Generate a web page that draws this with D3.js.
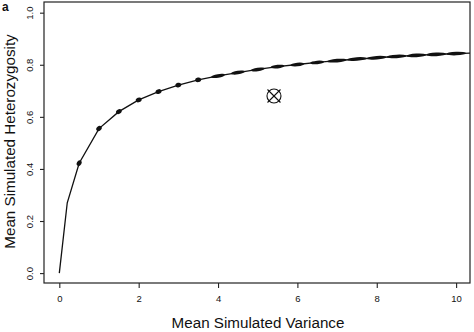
<!DOCTYPE html>
<html>
<head>
<meta charset="utf-8">
<script src="https://cdn.jsdelivr.net/npm/d3@7"></script>
<style>
  html, body { margin: 0; padding: 0; background: #fff; }
  svg { display: block; }
  text { font-family: "Liberation Sans", Arial, sans-serif; fill: #111; }
</style>
</head>
<body>
<script>
// ---- data ----
const variance = [0, 0.2, 0.5, 1.0, 1.5, 2.0, 2.5, 3.0, 3.5, 4.0, 4.5, 5.0, 5.5, 6.0, 6.5, 7.0, 7.5, 8.0, 8.5, 9.0, 9.5, 10.0, 10.35];
const heterozygosity = [0, 0.27, 0.422, 0.555, 0.62, 0.665, 0.697, 0.722, 0.742, 0.757, 0.77, 0.782, 0.793, 0.801, 0.809, 0.816, 0.822, 0.827, 0.832, 0.836, 0.840, 0.843, 0.845];
const markerVariance = [0.5, 1.0, 1.5, 2.0, 2.5, 3.0, 3.5, 4.0, 4.5, 5.0, 5.5, 6.0, 6.5, 7.0, 7.5, 8.0, 8.5, 9.0, 9.5, 10.0];
const observed = { variance: 5.41, heterozygosity: 0.68 };
const xTicks = [0, 2, 4, 6, 8, 10];
const yTicks = [0.0, 0.2, 0.4, 0.6, 0.8, 1.0];
const xTitle = "Mean Simulated Variance";
const yTitle = "Mean Simulated Heterozygosity";
const panelLabel = "a";

// ---- layout ----
const W = 474, H = 332;
const box = { left: 44, right: 470, top: 2, bottom: 283 };

const x = d3.scaleLinear().domain([-0.386, 10.35]).range([box.left, box.right]);
const y = d3.scaleLinear().domain([-0.038, 1.041]).range([box.bottom, box.top]);

const svg = d3.select("body").append("svg").attr("width", W).attr("height", H);

// box
svg.append("rect")
  .attr("x", box.left).attr("y", box.top)
  .attr("width", box.right - box.left).attr("height", box.bottom - box.top)
  .attr("fill", "none").attr("stroke", "#222").attr("stroke-width", 1.2);

// x axis ticks
const xAxis = d3.axisBottom(x).tickValues(xTicks).tickSize(5).tickPadding(7)
  .tickFormat(d3.format("d"));
const gx = svg.append("g").attr("transform", `translate(0,${box.bottom})`).call(xAxis);
gx.select(".domain").remove();
gx.selectAll(".tick line").attr("stroke", "#222").attr("stroke-width", 1.1);
gx.selectAll(".tick text").attr("font-size", 9.5).attr("fill", "#111")
  .attr("font-family", "Liberation Sans, Arial, sans-serif");

// y axis ticks
const yAxis = d3.axisLeft(y).tickValues(yTicks).tickSize(4).tickFormat(d3.format(".1f"));
const gy = svg.append("g").attr("transform", `translate(${box.left},0)`).call(yAxis);
gy.select(".domain").remove();
gy.selectAll(".tick line").attr("stroke", "#222").attr("stroke-width", 1.1);
gy.selectAll(".tick text")
  .attr("font-size", 9.5).attr("fill", "#111")
  .attr("font-family", "Liberation Sans, Arial, sans-serif")
  .attr("x", null).attr("dy", null)
  .attr("text-anchor", "middle")
  .attr("transform", "translate(-11,0) rotate(-90)");

// curve
const line = d3.line().x((d, i) => x(variance[i])).y((d, i) => y(heterozygosity[i]));
svg.append("path")
  .datum(heterozygosity)
  .attr("d", line)
  .attr("fill", "none").attr("stroke", "#111").attr("stroke-width", 1.3);

// markers (elongated along curve)
const interp = v => {
  for (let i = 1; i < variance.length; i++) {
    if (v <= variance[i]) {
      const t = (v - variance[i - 1]) / (variance[i] - variance[i - 1]);
      return heterozygosity[i - 1] + t * (heterozygosity[i] - heterozygosity[i - 1]);
    }
  }
  return heterozygosity[heterozygosity.length - 1];
};
markerVariance.forEach(v => {
  const idx = variance.indexOf(v);
  const h = heterozygosity[idx];
  const px = x(v), py = y(h);
  const p2x = x(v + 0.1), p2y = y(interp(v + 0.1));
  const ang = Math.atan2(p2y - py, p2x - px) * 180 / Math.PI;
  const rx = v < 4 ? 3.0 : (v < 7 ? 7 : 10);
  const ry = v < 4 ? 2.3 : 1.8;
  svg.append("ellipse")
    .attr("cx", px).attr("cy", py)
    .attr("rx", rx).attr("ry", ry)
    .attr("transform", `rotate(${ang},${px},${py})`)
    .attr("fill", "#111");
});

// observed symbol (circle with X)
const ox = x(observed.variance), oy = y(observed.heterozygosity);
const og = svg.append("g").attr("stroke", "#111").attr("stroke-width", 1.1).attr("fill", "none");
og.append("circle").attr("cx", ox).attr("cy", oy).attr("r", 7);
og.append("line").attr("x1", ox - 6.5).attr("y1", oy - 6.5).attr("x2", ox + 6.5).attr("y2", oy + 6.5);
og.append("line").attr("x1", ox + 6.5).attr("y1", oy - 6.5).attr("x2", ox - 6.5).attr("y2", oy + 6.5);

// axis titles
svg.append("text")
  .attr("x", (box.left + box.right) / 2 + 1).attr("y", 328)
  .attr("text-anchor", "middle").attr("font-size", 15.2)
  .text(xTitle);
svg.append("text")
  .attr("transform", `translate(15,${(box.top + box.bottom) / 2 - 1}) rotate(-90)`)
  .attr("text-anchor", "middle").attr("font-size", 15.2)
  .text(yTitle);

// panel label
svg.append("text")
  .attr("x", 2).attr("y", 11)
  .attr("font-size", 12).attr("font-weight", "bold")
  .text(panelLabel);
</script>
</body>
</html>
